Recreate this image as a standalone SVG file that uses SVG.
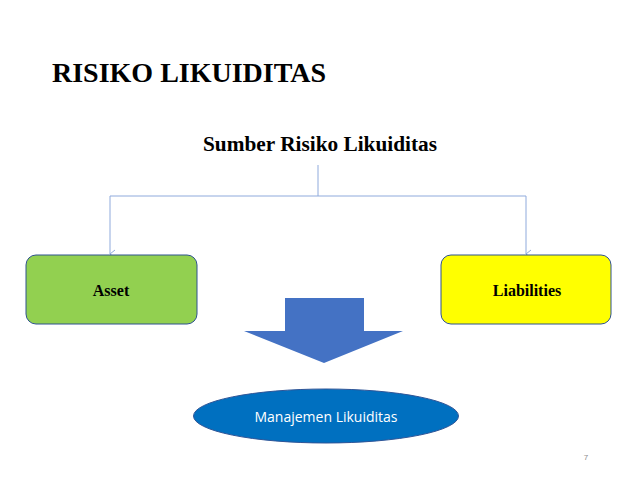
<svg xmlns="http://www.w3.org/2000/svg" width="638" height="478" viewBox="0 0 638 478">
<defs>
<style>
.serif{font-family:"Liberation Serif","Times New Roman",serif;font-weight:bold;fill:#000}
.box{stroke:#2F528F;stroke-width:1}
.conn{fill:none;stroke:#8FAADC;stroke-width:1}
</style>
<marker id="arr" markerWidth="10" markerHeight="10" refX="5" refY="6" orient="auto" markerUnits="userSpaceOnUse" viewBox="0 0 10 10">
<path d="M1,1 L5,6 L9,1" fill="none" stroke="#8FAADC" stroke-width="1"/>
</marker>
</defs>
<rect width="638" height="478" fill="#fff"/>
<text id="title" class="serif" x="52" y="82" font-size="28">RISIKO LIKUIDITAS</text>
<g id="source"><text class="serif" x="320" y="151" font-size="21.3" text-anchor="middle">Sumber Risiko Likuiditas</text></g>
<g id="connectors">
<path class="conn" d="M318,165 V196"/>
<path class="conn" d="M318,196 H110 V254" marker-end="url(#arr)"/>
<path class="conn" d="M318,196 H526 V254" marker-end="url(#arr)"/>
</g>
<g id="asset">
<rect class="box" x="26" y="255" width="171" height="69" rx="10" fill="#92D050"/>
<text class="serif" x="111" y="296" font-size="16" text-anchor="middle">Asset</text>
</g>
<g id="liabilities">
<rect class="box" x="441" y="255" width="170" height="69" rx="10" fill="#FFFF00"/>
<text class="serif" x="527" y="296" font-size="16" text-anchor="middle">Liabilities</text>
</g>
<g id="bigarrow">
<path d="M285,298 H364 V331 H403 L324,363 L244,331 H285 Z" fill="#4472C4"/>
</g>
<g id="manajemen">
<ellipse cx="326" cy="416" rx="132.5" ry="27" fill="#0070C0" stroke="#2F5597" stroke-width="1"/>
<text x="326" y="421.5" font-family="'Open Sans','Liberation Sans',sans-serif" font-size="14" fill="#fff" text-anchor="middle">Manajemen Likuiditas</text>
</g>
<text x="586" y="460" font-family="'Liberation Sans',sans-serif" font-size="8" fill="#8C8C8C" text-anchor="middle">7</text>
</svg>
